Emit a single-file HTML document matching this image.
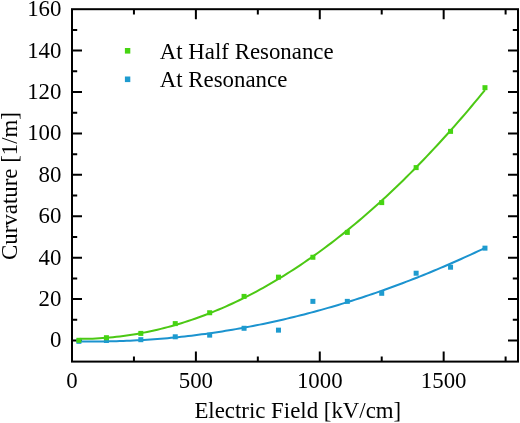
<!DOCTYPE html>
<html><head><meta charset="utf-8"><style>
html,body{margin:0;padding:0;background:#fff;}
body{width:520px;height:423px;overflow:hidden;}
svg{display:block;filter:blur(0.45px);}
text{font-family:"Liberation Serif","Times New Roman",serif;fill:#000;}
</style></head><body>
<svg width="520" height="423" viewBox="0 0 520 423">

<path d="M133.94,361.61V356.41 M133.94,9.20V14.40 M195.89,361.61V351.61 M195.89,9.20V19.20 M257.83,361.61V356.41 M257.83,9.20V14.40 M319.78,361.61V351.61 M319.78,9.20V19.20 M381.72,361.61V356.41 M381.72,9.20V14.40 M443.67,361.61V351.61 M443.67,9.20V19.20 M505.61,361.61V356.41 M505.61,9.20V14.40 M72.00,340.50H82.00 M518.00,340.50H508.00 M72.00,319.79H77.20 M518.00,319.79H512.80 M72.00,299.09H82.00 M518.00,299.09H508.00 M72.00,278.38H77.20 M518.00,278.38H512.80 M72.00,257.68H82.00 M518.00,257.68H508.00 M72.00,236.97H77.20 M518.00,236.97H512.80 M72.00,216.26H82.00 M518.00,216.26H508.00 M72.00,195.56H77.20 M518.00,195.56H512.80 M72.00,174.85H82.00 M518.00,174.85H508.00 M72.00,154.15H77.20 M518.00,154.15H512.80 M72.00,133.44H82.00 M518.00,133.44H508.00 M72.00,112.73H77.20 M518.00,112.73H512.80 M72.00,92.03H82.00 M518.00,92.03H508.00 M72.00,71.32H77.20 M518.00,71.32H512.80 M72.00,50.62H82.00 M518.00,50.62H508.00 M72.00,29.91H77.20 M518.00,29.91H512.80" stroke="#000" stroke-width="2" fill="none"/>
<rect x="72.00" y="9.20" width="446.00" height="352.40" fill="none" stroke="#000" stroke-width="2"/>
<path d="M78.89,341.40 L82.30,341.46 L85.71,341.49 L89.13,341.52 L92.54,341.53 L95.95,341.52 L99.36,341.51 L102.78,341.47 L106.19,341.43 L109.60,341.37 L113.01,341.29 L116.43,341.20 L119.84,341.10 L123.25,340.98 L126.66,340.85 L130.08,340.70 L133.49,340.54 L136.90,340.37 L140.31,340.18 L143.73,339.98 L147.14,339.76 L150.55,339.53 L153.96,339.28 L157.37,339.02 L160.79,338.75 L164.20,338.46 L167.61,338.16 L171.02,337.84 L174.44,337.51 L177.85,337.16 L181.26,336.81 L184.67,336.43 L188.09,336.04 L191.50,335.64 L194.91,335.23 L198.32,334.80 L201.74,334.35 L205.15,333.89 L208.56,333.42 L211.97,332.93 L215.39,332.43 L218.80,331.92 L222.21,331.39 L225.62,330.84 L229.04,330.28 L232.45,329.71 L235.86,329.12 L239.27,328.52 L242.69,327.91 L246.10,327.28 L249.51,326.64 L252.92,325.98 L256.34,325.31 L259.75,324.62 L263.16,323.92 L266.57,323.21 L269.99,322.48 L273.40,321.73 L276.81,320.98 L280.22,320.20 L283.64,319.42 L287.05,318.62 L290.46,317.81 L293.87,316.98 L297.29,316.13 L300.70,315.28 L304.11,314.41 L307.52,313.52 L310.94,312.62 L314.35,311.71 L317.76,310.78 L321.17,309.84 L324.59,308.88 L328.00,307.91 L331.41,306.93 L334.82,305.93 L338.24,304.92 L341.65,303.89 L345.06,302.85 L348.47,301.79 L351.89,300.72 L355.30,299.64 L358.71,298.54 L362.12,297.43 L365.54,296.30 L368.95,295.16 L372.36,294.01 L375.77,292.84 L379.18,291.65 L382.60,290.46 L386.01,289.24 L389.42,288.02 L392.83,286.78 L396.25,285.52 L399.66,284.25 L403.07,282.97 L406.48,281.67 L409.90,280.36 L413.31,279.04 L416.72,277.70 L420.13,276.34 L423.55,274.98 L426.96,273.59 L430.37,272.20 L433.78,270.79 L437.20,269.36 L440.61,267.92 L444.02,266.47 L447.43,265.00 L450.85,263.52 L454.26,262.02 L457.67,260.51 L461.08,258.99 L464.50,257.45 L467.91,255.90 L471.32,254.33 L474.73,252.75 L478.15,251.15 L481.56,249.54 L484.97,247.92" stroke="#1b93cf" stroke-width="2" fill="none"/>
<path d="M78.89,338.88 L82.30,338.87 L85.71,338.82 L89.13,338.74 L92.54,338.63 L95.95,338.47 L99.36,338.28 L102.78,338.06 L106.19,337.80 L109.60,337.51 L113.01,337.18 L116.43,336.82 L119.84,336.42 L123.25,335.98 L126.66,335.51 L130.08,335.01 L133.49,334.47 L136.90,333.89 L140.31,333.28 L143.73,332.63 L147.14,331.95 L150.55,331.24 L153.96,330.48 L157.37,329.70 L160.79,328.88 L164.20,328.02 L167.61,327.12 L171.02,326.20 L174.44,325.23 L177.85,324.24 L181.26,323.20 L184.67,322.13 L188.09,321.03 L191.50,319.89 L194.91,318.71 L198.32,317.50 L201.74,316.26 L205.15,314.98 L208.56,313.66 L211.97,312.31 L215.39,310.93 L218.80,309.50 L222.21,308.05 L225.62,306.56 L229.04,305.03 L232.45,303.47 L235.86,301.87 L239.27,300.24 L242.69,298.57 L246.10,296.86 L249.51,295.13 L252.92,293.35 L256.34,291.54 L259.75,289.70 L263.16,287.82 L266.57,285.90 L269.99,283.95 L273.40,281.97 L276.81,279.95 L280.22,277.89 L283.64,275.80 L287.05,273.68 L290.46,271.51 L293.87,269.32 L297.29,267.08 L300.70,264.82 L304.11,262.52 L307.52,260.18 L310.94,257.80 L314.35,255.40 L317.76,252.95 L321.17,250.47 L324.59,247.96 L328.00,245.41 L331.41,242.83 L334.82,240.21 L338.24,237.55 L341.65,234.86 L345.06,232.14 L348.47,229.38 L351.89,226.58 L355.30,223.75 L358.71,220.88 L362.12,217.98 L365.54,215.04 L368.95,212.07 L372.36,209.07 L375.77,206.02 L379.18,202.94 L382.60,199.83 L386.01,196.68 L389.42,193.50 L392.83,190.28 L396.25,187.03 L399.66,183.74 L403.07,180.41 L406.48,177.05 L409.90,173.66 L413.31,170.23 L416.72,166.76 L420.13,163.26 L423.55,159.73 L426.96,156.16 L430.37,152.55 L433.78,148.91 L437.20,145.23 L440.61,141.52 L444.02,137.77 L447.43,133.99 L450.85,130.17 L454.26,126.32 L457.67,122.43 L461.08,118.51 L464.50,114.55 L467.91,110.55 L471.32,106.52 L474.73,102.46 L478.15,98.36 L481.56,94.22 L484.97,90.05" stroke="#4cc814" stroke-width="2" fill="none"/>
<rect x="76.39" y="338.83" width="5.0" height="5.0" fill="#1e9bcf"/><rect x="103.92" y="338.00" width="5.0" height="5.0" fill="#1e9bcf"/><rect x="138.33" y="337.19" width="5.0" height="5.0" fill="#1e9bcf"/><rect x="172.75" y="334.29" width="5.0" height="5.0" fill="#1e9bcf"/><rect x="207.17" y="332.62" width="5.0" height="5.0" fill="#1e9bcf"/><rect x="241.56" y="325.78" width="5.0" height="5.0" fill="#1e9bcf"/><rect x="275.97" y="327.65" width="5.0" height="5.0" fill="#1e9bcf"/><rect x="310.39" y="298.87" width="5.0" height="5.0" fill="#1e9bcf"/><rect x="344.81" y="298.87" width="5.0" height="5.0" fill="#1e9bcf"/><rect x="379.22" y="290.79" width="5.0" height="5.0" fill="#1e9bcf"/><rect x="413.64" y="270.71" width="5.0" height="5.0" fill="#1e9bcf"/><rect x="448.05" y="264.70" width="5.0" height="5.0" fill="#1e9bcf"/><rect x="482.47" y="245.65" width="5.0" height="5.0" fill="#1e9bcf"/>
<rect x="76.39" y="337.79" width="5.0" height="5.0" fill="#46d412"/><rect x="103.92" y="335.20" width="5.0" height="5.0" fill="#46d412"/><rect x="138.33" y="330.90" width="5.0" height="5.0" fill="#46d412"/><rect x="172.75" y="321.10" width="5.0" height="5.0" fill="#46d412"/><rect x="207.17" y="310.25" width="5.0" height="5.0" fill="#46d412"/><rect x="241.56" y="293.90" width="5.0" height="5.0" fill="#46d412"/><rect x="275.97" y="274.64" width="5.0" height="5.0" fill="#46d412"/><rect x="310.39" y="254.76" width="5.0" height="5.0" fill="#46d412"/><rect x="344.81" y="229.91" width="5.0" height="5.0" fill="#46d412"/><rect x="379.22" y="200.10" width="5.0" height="5.0" fill="#46d412"/><rect x="413.64" y="165.10" width="5.0" height="5.0" fill="#46d412"/><rect x="448.05" y="128.87" width="5.0" height="5.0" fill="#46d412"/><rect x="482.47" y="85.18" width="5.0" height="5.0" fill="#46d412"/>
<text x="72.00" y="388.2" font-size="22.85" text-anchor="middle">0</text>
<text x="195.89" y="388.2" font-size="22.85" text-anchor="middle">500</text>
<text x="319.78" y="388.2" font-size="22.85" text-anchor="middle">1000</text>
<text x="443.67" y="388.2" font-size="22.85" text-anchor="middle">1500</text>
<text x="61.4" y="347.40" font-size="22.85" text-anchor="end">0</text>
<text x="61.4" y="305.99" font-size="22.85" text-anchor="end">20</text>
<text x="61.4" y="264.58" font-size="22.85" text-anchor="end">40</text>
<text x="61.4" y="223.16" font-size="22.85" text-anchor="end">60</text>
<text x="61.4" y="181.75" font-size="22.85" text-anchor="end">80</text>
<text x="61.4" y="140.34" font-size="22.85" text-anchor="end">100</text>
<text x="61.4" y="98.93" font-size="22.85" text-anchor="end">120</text>
<text x="61.4" y="57.52" font-size="22.85" text-anchor="end">140</text>
<text x="61.4" y="16.10" font-size="22.85" text-anchor="end">160</text>
<text x="297.8" y="417.7" font-size="22.85" text-anchor="middle">Electric Field [kV/cm]</text>
<text transform="translate(16.5,186) rotate(-90)" x="0" y="0" font-size="22.85" text-anchor="middle">Curvature [1/m]</text>
<rect x="124.9" y="48" width="5.4" height="5.6" fill="#46d412"/>
<rect x="124.9" y="76.5" width="5.4" height="5.6" fill="#1e9bcf"/>
<text x="159.8" y="58.6" font-size="22.85">At Half Resonance</text>
<text x="159.8" y="86.9" font-size="22.85">At Resonance</text>
</svg></body></html>
